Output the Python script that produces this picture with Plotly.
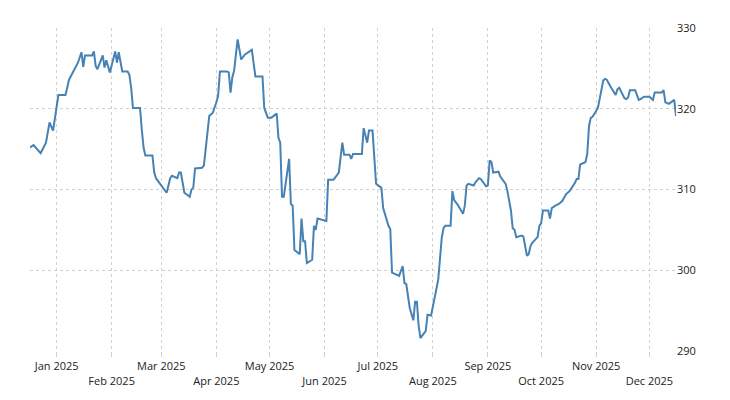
import plotly.graph_objects as go

dates = ["2024-12-17","2024-12-19","2024-12-23","2024-12-26","2024-12-28","2024-12-30",
"2025-01-02","2025-01-06","2025-01-08","2025-01-12","2025-01-13","2025-01-15","2025-01-16","2025-01-17",
"2025-01-21","2025-01-22","2025-01-23","2025-01-24","2025-01-27","2025-01-28","2025-01-29","2025-01-31",
"2025-02-03","2025-02-04","2025-02-05","2025-02-07","2025-02-10","2025-02-11","2025-02-12","2025-02-13",
"2025-02-17","2025-02-18","2025-02-19","2025-02-20","2025-02-24","2025-02-25","2025-02-26","2025-02-28",
"2025-03-04","2025-03-06","2025-03-07","2025-03-10","2025-03-11","2025-03-12","2025-03-14","2025-03-17",
"2025-03-18","2025-03-19","2025-03-20","2025-03-24","2025-03-25","2025-03-28","2025-03-30","2025-04-01",
"2025-04-02","2025-04-03","2025-04-07","2025-04-08","2025-04-09","2025-04-10","2025-04-11","2025-04-13",
"2025-04-15","2025-04-17","2025-04-20","2025-04-21","2025-04-23","2025-04-27","2025-04-28","2025-04-30",
"2025-05-02","2025-05-05","2025-05-06","2025-05-07","2025-05-08","2025-05-09","2025-05-12","2025-05-13",
"2025-05-14","2025-05-15","2025-05-18","2025-05-19","2025-05-20","2025-05-21","2025-05-22","2025-05-25",
"2025-05-26","2025-05-27","2025-05-28","2025-06-02","2025-06-03","2025-06-06","2025-06-09","2025-06-11",
"2025-06-12","2025-06-15","2025-06-16","2025-06-17","2025-06-22","2025-06-23","2025-06-25","2025-06-26",
"2025-06-28","2025-06-30","2025-07-03","2025-07-04","2025-07-07","2025-07-08","2025-07-09","2025-07-13",
"2025-07-15","2025-07-16","2025-07-17","2025-07-19","2025-07-21","2025-07-22","2025-07-23","2025-07-24",
"2025-07-25","2025-07-28","2025-07-29","2025-07-31","2025-08-04","2025-08-06","2025-08-07","2025-08-08",
"2025-08-11","2025-08-12","2025-08-13","2025-08-15","2025-08-18","2025-08-19","2025-08-20","2025-08-21",
"2025-08-24","2025-08-25","2025-08-27","2025-08-28","2025-08-31","2025-09-01","2025-09-02","2025-09-03",
"2025-09-04","2025-09-07","2025-09-08","2025-09-09","2025-09-11","2025-09-12","2025-09-14","2025-09-15",
"2025-09-16","2025-09-17","2025-09-20","2025-09-21","2025-09-23","2025-09-24","2025-09-25","2025-09-26",
"2025-09-29","2025-09-30","2025-10-01","2025-10-02","2025-10-05","2025-10-06","2025-10-07","2025-10-09",
"2025-10-11","2025-10-13","2025-10-14","2025-10-15","2025-10-17","2025-10-18","2025-10-20","2025-10-21",
"2025-10-22","2025-10-23","2025-10-26","2025-10-27","2025-10-28","2025-10-29","2025-10-30","2025-11-02",
"2025-11-04","2025-11-05","2025-11-06","2025-11-07","2025-11-09","2025-11-11","2025-11-12","2025-11-13",
"2025-11-14","2025-11-17","2025-11-18","2025-11-19","2025-11-20","2025-11-23","2025-11-25","2025-11-26",
"2025-11-28","2025-12-01","2025-12-03","2025-12-04","2025-12-08","2025-12-09","2025-12-10","2025-12-12",
"2025-12-15","2025-12-16"]

values = [315.2,315.5,314.5,315.8,318.3,317.3,
321.7,321.7,323.6,325.3,325.7,327.0,325.2,326.6,
326.6,327.1,325.3,324.9,326.6,325.1,326.0,324.5,
327.1,325.7,327.0,324.6,324.6,324.2,322.6,320.1,
320.1,317.4,315.2,314.2,314.2,312.1,311.4,310.8,
309.6,311.4,311.7,311.4,312.1,312.1,309.6,309.1,
310.0,310.2,312.6,312.7,313.0,319.1,319.5,320.8,
321.6,324.6,324.6,324.5,322.0,323.9,324.7,328.6,
326.1,326.7,327.2,327.3,324.0,324.0,320.1,318.9,
318.9,319.4,316.4,315.8,309.1,309.1,313.8,308.2,
308.0,302.5,302.0,306.4,303.6,303.6,300.9,301.3,
305.5,305.0,306.4,306.1,311.2,311.2,312.1,315.8,
314.3,314.3,313.8,314.4,314.4,317.6,315.8,317.3,
317.3,310.7,310.2,307.7,305.5,305.1,299.7,299.3,
300.5,298.4,298.3,295.3,293.8,296.1,296.1,293.1,
291.6,292.5,294.5,294.4,298.8,304.0,305.2,305.5,
305.5,309.8,308.7,308.1,307.0,308.0,310.5,310.7,
310.5,310.9,311.4,311.3,310.4,310.5,313.6,313.4,
312.1,312.2,311.6,311.3,310.7,309.8,307.4,305.2,
305.0,304.1,304.3,304.2,301.8,302.0,303.0,303.4,
304.1,305.5,305.8,307.4,307.4,306.4,307.7,308.0,
308.2,308.6,309.0,309.4,309.8,310.1,310.8,311.3,
311.3,313.1,313.4,314.4,317.9,318.9,319.0,320.1,
322.4,323.5,323.7,323.6,322.8,322.0,321.7,322.4,
322.6,321.3,321.2,321.4,322.3,322.3,321.1,321.2,
321.5,321.5,321.1,322.0,322.0,322.3,320.8,320.6,
321.1,319.1]

tick_dates = ["2025-%02d-01" % m for m in range(1, 13)]
month_names = ["Jan","Feb","Mar","Apr","May","Jun","Jul","Aug","Sep","Oct","Nov","Dec"]
tick_text = [(f"{n} 2025" if i % 2 == 0 else f"<br>{n} 2025") for i, n in enumerate(month_names)]

fig = go.Figure(go.Scatter(x=dates, y=values, mode="lines",
                           line=dict(color="#4682b4", width=2), hoverinfo="skip"))
fig.update_layout(
    width=730, height=400, margin=dict(l=22, r=62, t=20, b=57),
    paper_bgcolor="white", plot_bgcolor="white", showlegend=False,
    font=dict(family="Open Sans, DejaVu Sans", size=11, color="#222"),
)
fig.update_xaxes(range=["2024-12-17", "2025-12-16"], tickvals=tick_dates, ticktext=tick_text,
                 showgrid=True, gridcolor="#d0d0d0", griddash="dot", gridwidth=1, automargin=False,
                 ticks="outside", ticklen=5, tickcolor="#d0d0d0", showline=False, zeroline=False)
fig.update_yaxes(side="right", range=[290, 330], tickvals=[290, 300, 310, 320, 330], automargin=False,
                 showgrid=True, gridcolor="#d0d0d0", griddash="dot", gridwidth=1,
                 zeroline=False, showline=False, ticks="")
fig.write_html("out.html")
